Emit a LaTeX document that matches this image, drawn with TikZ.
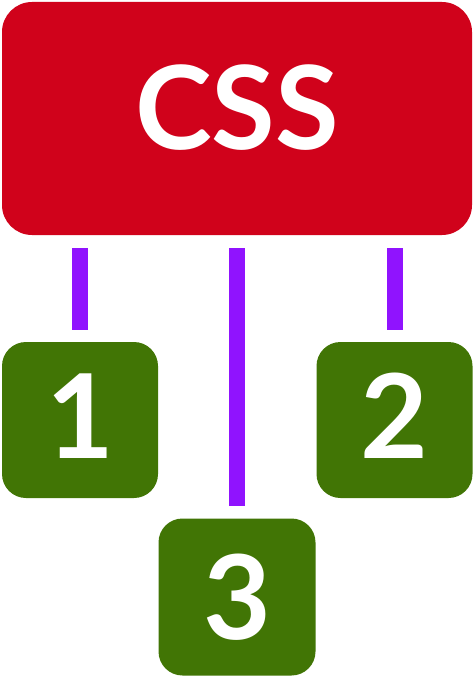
\documentclass[tikz,border=0pt]{standalone}
\usepackage{fontspec}
\setmainfont{Lato}[UprightFont=* Bold]
\definecolor{cssred}{RGB}{208,2,27}
\definecolor{boxgreen}{RGB}{65,117,5}
\definecolor{linkpurple}{RGB}{144,19,254}
\begin{document}
\begin{tikzpicture}[x=1pt,y=-1pt,
        head/.style={fill=cssred,rounded corners=30pt,minimum width=470pt,minimum height=233pt,
            text=white,inner sep=0pt,font=\fontsize{116}{116}\selectfont},
        item/.style={fill=boxgreen,rounded corners=24pt,minimum size=156pt,
            text=white,inner sep=0pt,font=\fontsize{117}{117}\selectfont},
        link/.style={linkpurple,line width=16pt,shorten <=13pt,shorten >=12pt}]
        \useasboundingbox (0,0) rectangle (474,676);
        \node[head] (css) at (237,118.5) {\raisebox{11pt}[\height][\depth]{CSS}};
        \node[item] (one) at (80,420) {\raisebox{4pt}[\height][\depth]{1}};
        \node[item] (two) at (394.5,420) {\raisebox{4pt}[\height][\depth]{2}};
        \node[item,minimum size=157pt] (three) at (237,597) {3};
        \draw[link] (css.south -| one) -- (one.north);
        \draw[link] (css.south -| two) -- (two.north);
        \draw[link] (css.south -| three) -- (three.north);
    \end{tikzpicture}
\end{document}
